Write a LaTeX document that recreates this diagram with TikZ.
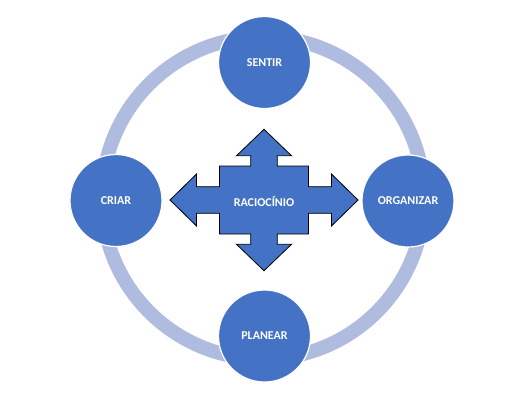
\documentclass[tikz,border=0pt]{standalone}
\usepackage{fontspec}
\setmainfont{Carlito}
\definecolor{ringblue}{RGB}{175,188,224}
\definecolor{accblue}{HTML}{4472C4}
\begin{document}
\begin{tikzpicture}[x=1pt,y=-1pt,
  ringstyle/.style={draw=ringblue,line width=14pt},
  bubble/.style={circle,fill=accblue,draw=white,line width=1.2pt,minimum size=92pt,inner sep=0pt,
    text=white,font=\fontsize{12}{14}\selectfont\bfseries},
  crossarrow/.style={fill=accblue,draw=black,line width=0.8pt,line join=miter},
  centertext/.style={text=white,font=\fontsize{12}{14}\selectfont\bfseries,inner sep=0pt}]
\useasboundingbox (0,0) rectangle (519,405);
\fill[white] (0,0) rectangle (519,405);
\draw[ringstyle] (263,198) circle[radius=161];
\node[bubble] (sentir) at (264.5,62.5) {SENTIR};
\node[bubble] (criar) at (116,200.5) {CRIAR};
\node[bubble] (organizar) at (408,201) {ORGANIZAR};
\node[bubble] (planear) at (264.5,336) {PLANEAR};
\draw[crossarrow]
  (264,129.3) -- (291.5,155.7) -- (277.3,155.7) -- (277.3,166) -- (308.5,166)
  -- (308.5,186.7) -- (331.5,186.7) -- (331.5,174) -- (358,200) -- (331.5,226)
  -- (331.5,213.3) -- (308.5,213.3) -- (308.5,234) -- (277.3,234) -- (277.3,244.3)
  -- (291.5,244.3) -- (264,270.7) -- (236.5,244.3) -- (250.7,244.3) -- (250.7,234)
  -- (219.5,234) -- (219.5,213.3) -- (196.5,213.3) -- (196.5,226) -- (170,200)
  -- (196.5,174) -- (196.5,186.7) -- (219.5,186.7) -- (219.5,166) -- (250.7,166)
  -- (250.7,155.7) -- (236.5,155.7) -- cycle;
\node[centertext] (raciocinio) at (264,201) {RACIOCÍNIO};
\end{tikzpicture}
\end{document}
